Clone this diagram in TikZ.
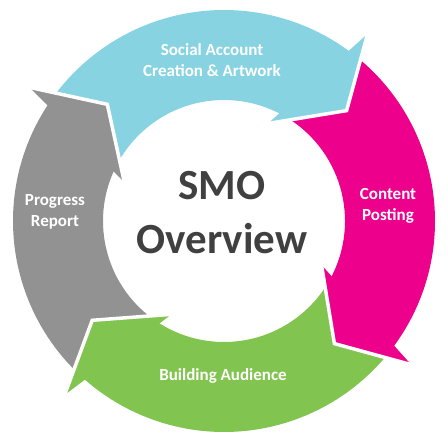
\documentclass[tikz,border=0pt]{standalone}
\usepackage{fontspec}
\setmainfont{Carlito}
\definecolor{smoblue}{HTML}{88D3E2}
\definecolor{smopink}{HTML}{EC008C}
\definecolor{smogreen}{HTML}{82C450}
\definecolor{smogray}{HTML}{929292}
\definecolor{smotext}{HTML}{404040}
\tikzset{
  arrowtext/.style={text=white, align=center, font=\fontsize{17}{21}\selectfont\bfseries},
  titletext/.style={text=smotext, align=center, font=\fontsize{43}{54}\selectfont\bfseries},
  headgap/.style={white, line width=3.5pt}
}

\begin{document}
\begin{tikzpicture}[x=1pt, y=1pt, line join=miter]
    \useasboundingbox (-224,-227) rectangle (224,221);

    % curved bands, each one starting under the head before it
    \foreach \tip/\prev/\col in {42/135/smoblue, -48/42/smopink, -143/-48/smogreen, 135/217/smogray}
        \fill[\col] ({\prev+10.93}:211) arc[start angle={\prev+10.93}, end angle={\tip+10.93}, radius=211pt]
            -- ({\tip+19.3}:121) arc[start angle={\tip+19.3}, end angle={\prev+19.3}, radius=121pt] -- cycle;

    % arrow heads
    \foreach \tip/\col in {42/smoblue, -48/smopink, -143/smogreen, 135/smogray} {
        \fill[\col, rotate=\tip-90] (-43,232) -- (0,165) -- (-43,98) -- cycle;
        \draw[headgap, rotate=\tip-90] (-43,232) -- (0,165) -- (-43,98);
    }

    \node[arrowtext] (social) at (-12,161) {Social Account\\Creation \& Artwork};
    \node[arrowtext] (content) at (164,15) {Content\\Posting};
    \node[arrowtext] (audience) at (-1,-155) {Building Audience};
    \node[arrowtext] (progress) at (-169,9) {Progress\\Report};

    \node[titletext] (title) at (-2,8) {SMO\\Overview};
\end{tikzpicture}
\end{document}
